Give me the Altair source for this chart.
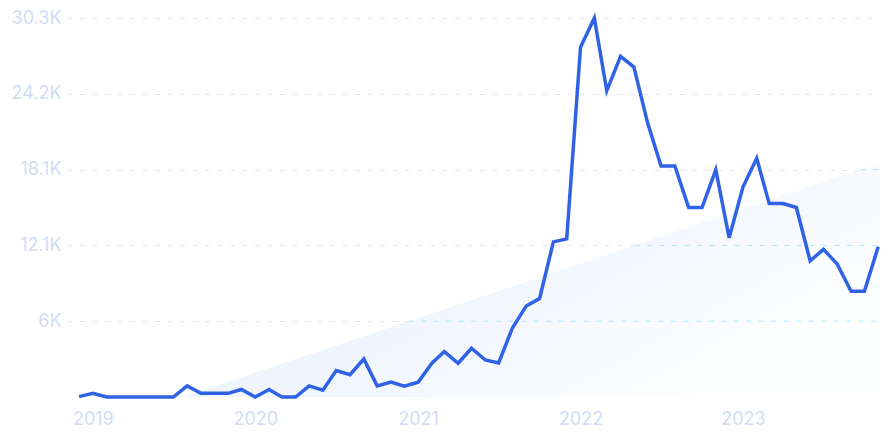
import altair as alt
import pandas as pd

# ---- data ----
month_starts = pd.date_range("2018-12-01", periods=60, freq="MS").strftime("%Y-%m-%d").tolist()
search_values = [
    30, 290, 0, 0, 0, 0, 0, 0, 890, 290,
    290, 290, 600, 0, 600, 0, 0, 890, 550, 2120,
    1780, 3040, 890, 1200, 860, 1180, 2700, 3630, 2700, 3900,
    2960, 2720, 5520, 7280, 7870, 12400, 12640, 27970, 30300, 24490,
    27240, 26380, 21880, 18470, 18470, 15150, 15150, 18160, 12720, 16780,
    19080, 15460, 15460, 15150, 10890, 11800, 10620, 8450, 8450, 12010,
]
trend_dates = ["2019-07-22", "2023-11-05"]
trend_values = [0, 18700]
x_domain_dates = ["2018-11-04", "2023-11-05"]
x_tick_dates = ["2019-01-01", "2020-01-01", "2021-01-01", "2022-01-01", "2023-01-01"]
y_max = 30300
y_tick_values = [6060, 12120, 18180, 24240, 30300]
y_tick_labels = ["6K", "12.1K", "18.1K", "24.2K", "30.3K"]

# ---- styling ----
LINE = "#2f62e5"
LABEL = "#d3dcf5"
GRID = "#dfe4f7"
GRID_IN = "#aee4ff"
FONT = "Inter"


def ms(d):
    return int(pd.Timestamp(d).value // 10**6)


df = pd.DataFrame({"date": month_starts, "value": search_values})
trend_df = pd.DataFrame({"date": trend_dates, "value": trend_values})

# dashed gridline segments lying inside the shaded trend area
t0, t1 = pd.Timestamp(trend_dates[0]), pd.Timestamp(trend_dates[1])
seg_rows = []
for v in y_tick_values:
    if v < trend_values[1]:
        start = t0 + (t1 - t0) * (v / trend_values[1])
        seg_rows.append({"date": start.strftime("%Y-%m-%dT%H:%M:%S"),
                         "date2": x_domain_dates[1], "value": v})
seg_df = pd.DataFrame(seg_rows)

label_expr = ""
for v, lab in zip(y_tick_values, y_tick_labels):
    label_expr += f"datum.value == {v} ? '{lab}' : "
label_expr += "''"

x_scale = alt.Scale(type="utc", domain=[ms(d) for d in x_domain_dates], nice=False)
y_scale = alt.Scale(domain=[0, y_max], nice=False, zero=True)

x_enc = alt.X(
    "date:T", scale=x_scale, title=None,
    axis=alt.Axis(values=[ms(d) for d in x_tick_dates], format="%Y", grid=False,
                  labelPadding=22, labelBaseline="middle"),
)
y_enc = alt.Y(
    "value:Q", scale=y_scale, title=None,
    axis=alt.Axis(values=y_tick_values, labelExpr=label_expr, grid=True, labelPadding=6),
)

gradient = alt.Gradient(
    gradient="linear",
    stops=[alt.GradientStop(color="#e3edfc", offset=0),
           alt.GradientStop(color="#fdfeff", offset=1)],
    x1=0, y1=0, x2=1, y2=0.6,
)

area = alt.Chart(trend_df).mark_area(color=gradient).encode(x=x_enc, y=y_enc)

segs = alt.Chart(seg_df).mark_rule(color=GRID_IN, strokeDash=[5, 7.5], strokeWidth=1).encode(
    x="date:T", x2="date2:T", y="value:Q"
)

line = alt.Chart(df).mark_line(color=LINE, strokeWidth=3.5).encode(x="date:T", y="value:Q")

chart = (
    alt.layer(area, segs, line)
    .properties(
        width=813, height=379,
        autosize=alt.AutoSizeParams(type="none"),
        padding={"left": 59, "top": 10, "right": 0, "bottom": 32},
        background="white",
    )
    .configure_view(stroke=None)
    .configure_axis(
        labelFont=FONT, labelFontSize=18, labelColor=LABEL,
        gridColor=GRID, gridDash=[5, 7.5], gridWidth=1,
        domain=False, ticks=False,
    )
)

chart.save("out.html", embed_options={"renderer": "svg", "actions": False})
